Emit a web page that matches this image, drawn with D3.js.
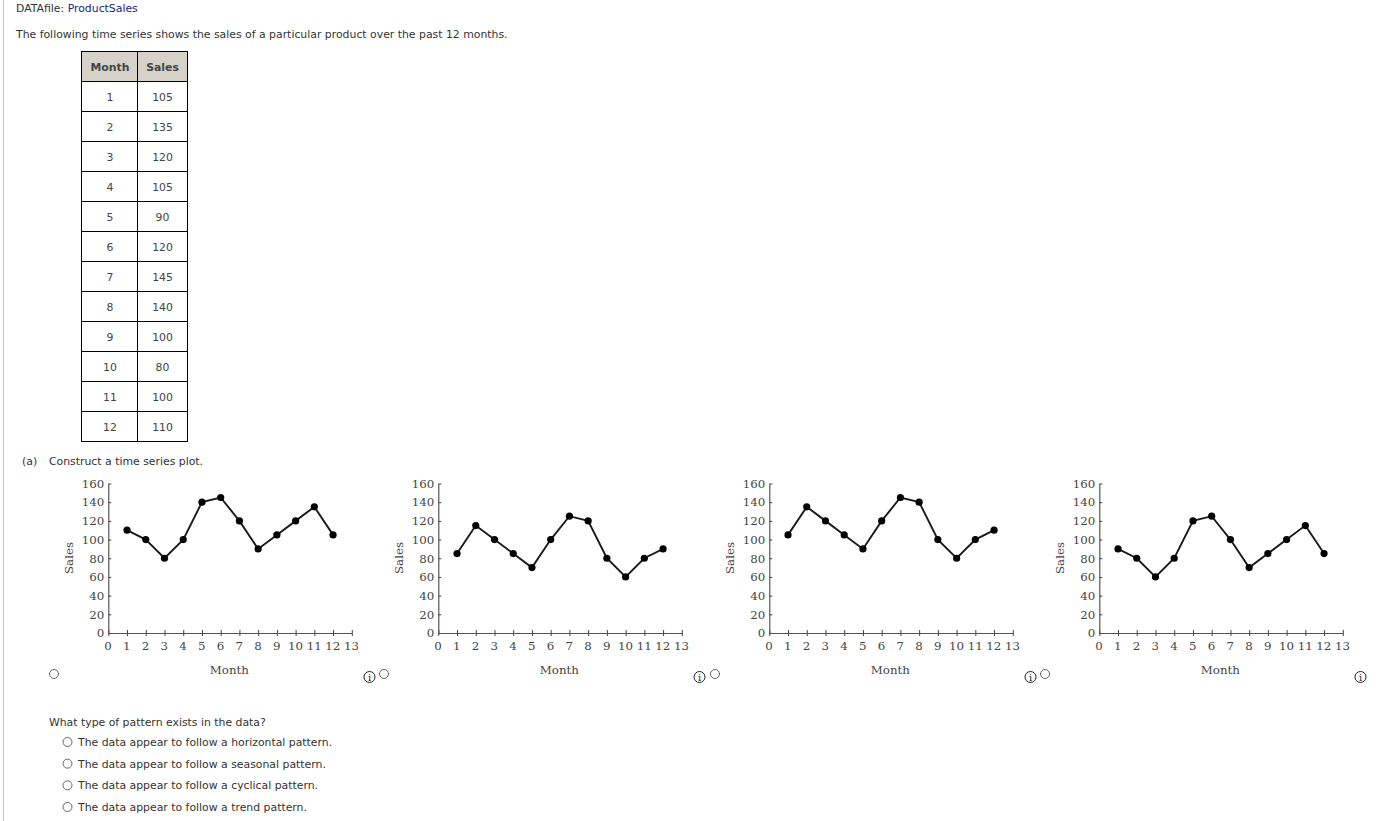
<!DOCTYPE html>
<html><head><meta charset="utf-8">
<script src="https://cdn.jsdelivr.net/npm/d3@7"></script>
<style>
html,body{margin:0;padding:0;background:#fff;overflow:hidden}
svg{display:block}
.s{font-family:"DejaVu Sans",Verdana,sans-serif;font-size:10.87px;fill:#333}
.c{font-family:"DejaVu Serif",serif;font-size:11.8px;fill:#444}
</style></head><body>
<svg id="v" width="1390" height="821"></svg>
<script>
const months=[1,2,3,4,5,6,7,8,9,10,11,12];
const tableSales=[105,135,120,105,90,120,145,140,100,80,100,110];
const seriesA=[110,100,80,100,140,145,120,90,105,120,135,105];
const seriesB=[85,115,100,85,70,100,125,120,80,60,80,90];
const seriesC=[105,135,120,105,90,120,145,140,100,80,100,110];
const seriesD=[90,80,60,80,120,125,100,70,85,100,115,85];
const xTicks=[0,1,2,3,4,5,6,7,8,9,10,11,12,13];
const yTicks=[0,20,40,60,80,100,120,140,160];
const options=["The data appear to follow a horizontal pattern.","The data appear to follow a seasonal pattern.","The data appear to follow a cyclical pattern.","The data appear to follow a trend pattern."];

const svg=d3.select("#v");
svg.append("line").attr("x1",3.5).attr("x2",3.5).attr("y1",0).attr("y2",821).attr("stroke","#ccc");
const txt=(x,y,t,cls="s",anchor="start")=>svg.append("text").attr("class",cls).attr("x",x).attr("y",y).attr("text-anchor",anchor).text(t);

const h=txt(16,12,"DATAfile: ");
h.append("tspan").style("fill","#1a1a7e").text("ProductSales");
txt(16,38,"The following time series shows the sales of a particular product over the past 12 months.");

// table
const rowY=d3.scaleLinear().domain([0,13]).range([51.5,441.5]);
const colX=[81.5,137.5,187.5];
svg.append("rect").attr("x",colX[0]).attr("y",rowY(0)).attr("width",colX[2]-colX[0]).attr("height",30).attr("fill","#d6d2c9");
d3.range(14).forEach(i=>svg.append("line").attr("x1",colX[0]-.5).attr("x2",colX[2]+.5).attr("y1",rowY(i)).attr("y2",rowY(i)).attr("stroke","#000"));
colX.forEach(x=>svg.append("line").attr("x1",x).attr("x2",x).attr("y1",51).attr("y2",442).attr("stroke","#000"));
txt(110,71,"Month","s","middle").style("font-weight","bold").style("fill","#444");
txt(162.5,71,"Sales","s","middle").style("font-weight","bold").style("fill","#444");
months.forEach((m,i)=>{
  txt(110,rowY(i+1)+19.5,m,"s","middle").style("fill","#444");
  txt(162.5,rowY(i+1)+19.5,tableSales[i],"s","middle").style("fill","#444");
});

txt(22,465,"(a)");
txt(49,465,"Construct a time series plot.");

function radio(x,y,r=4.5){svg.append("circle").attr("cx",x).attr("cy",y).attr("r",r).attr("fill","#fff").attr("stroke","#666").attr("stroke-width",1);}
function info(x,y){
  svg.append("circle").attr("cx",x).attr("cy",y).attr("r",5.5).attr("fill","#fff").attr("stroke","#222");
  svg.append("text").attr("x",x).attr("y",y+4).attr("text-anchor","middle").attr("font-family","DejaVu Serif").attr("font-size",10).attr("fill","#222").text("i");
}

function chart(data,x0,radioX,radioY,infoX,infoY){
  const x=d3.scaleLinear().domain([0,13]).range([x0,x0+243.5]);
  const y=d3.scaleLinear().domain([0,160]).range([633,483.5]);
  const g=svg.append("g").attr("class","c");
  const xa=g.append("g").attr("transform","translate(0,633)").call(d3.axisBottom(x).tickValues(xTicks).tickSize(0).tickPadding(9).tickFormat(d3.format("d")));
  const ya=g.append("g").attr("transform",`translate(${x0},0)`).call(d3.axisLeft(y).tickValues(yTicks).tickSize(0).tickPadding(4));
  [xa,ya].forEach(a=>{a.selectAll("text").attr("class","c").attr("font-family",null).attr("font-size",null);a.attr("font-family",null).attr("font-size",null);a.select(".domain").attr("stroke","#555").attr("stroke-width",1.2);});
  xa.selectAll("text").attr("dx",-0.7);
  xa.selectAll(".tick line").attr("y1",-3).attr("y2",3).attr("stroke","#444");
  ya.selectAll(".tick line").attr("x1",0).attr("x2",3).attr("stroke","#444");
  const line=d3.line().x((d,i)=>x(months[i])).y(d=>y(d));
  g.append("path").datum(data).attr("d",line).attr("fill","none").attr("stroke","#1a1a1a").attr("stroke-width",1.9);
  g.selectAll("circle").data(data).join("circle").attr("cx",(d,i)=>x(months[i])).attr("cy",d=>y(d)).attr("r",3.6).attr("fill","#000");
  g.append("text").attr("class","c").attr("x",x0+121).attr("y",673.5).attr("text-anchor","middle").text("Month");
  g.append("text").attr("class","c").attr("transform",`translate(${x0-35},558) rotate(-90)`).attr("text-anchor","middle").text("Sales");
  radio(radioX,radioY);
  info(infoX,infoY);
}
chart(seriesA,108.3,54,674,369.5,677);
chart(seriesB,438.3,384,674,699.5,677);
chart(seriesC,769.3,715,674,1030.5,677);
chart(seriesD,1099.3,1045,674,1360.5,677);

txt(49,725.5,"What type of pattern exists in the data?");
const optY=d3.scaleLinear().domain([0,3]).range([742,807]);
options.forEach((o,i)=>{radio(67.5,optY(i));txt(78,optY(i)+4,o);});
</script>
</body></html>
